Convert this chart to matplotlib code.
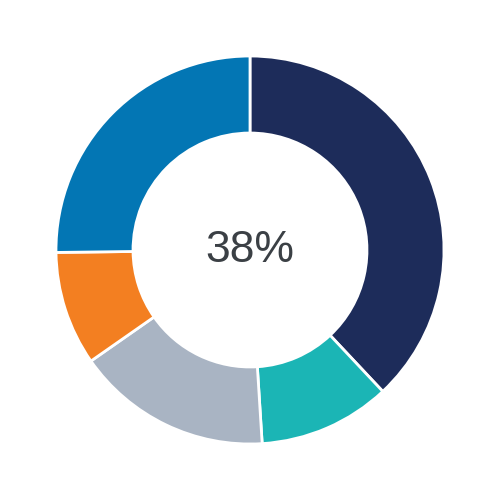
import matplotlib
matplotlib.use("Agg")
import matplotlib.pyplot as plt

labels = ["Navy", "Teal", "Gray", "Orange", "Blue"]
values = [38, 11, 16.3, 9.5, 25.2]
colors = ["#1d2c5a", "#1bb5b5", "#a9b4c3", "#f37f21", "#0376b4"]
center_text = "38%"

fig = plt.figure(figsize=(5, 5), dpi=100)
ax = fig.add_axes([0, 0, 1, 1])
ax.pie(values, colors=colors, startangle=90, counterclock=False, radius=1,
       wedgeprops=dict(width=0.397, edgecolor="white", linewidth=2))
lim = 250 / 194
ax.set_xlim(-lim, lim)
ax.set_ylim(-lim, lim)
ax.set_aspect("equal")
ax.axis("off")
ax.text(0, -0.005, center_text, ha="center", va="center", fontsize=32,
        family=["Liberation Sans", "DejaVu Sans"], color="#3b4045")
fig.savefig("out.png", dpi=100, facecolor="white")
